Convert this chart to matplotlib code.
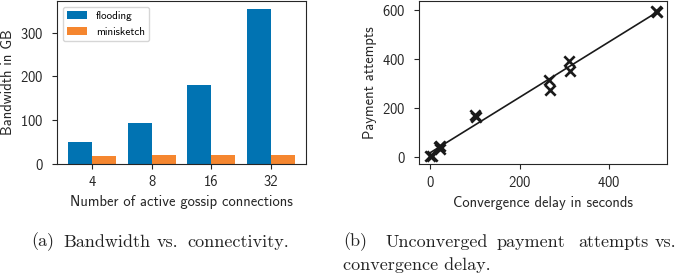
import numpy as np
import matplotlib
matplotlib.use("Agg")
import matplotlib.pyplot as plt

# (a) bandwidth per connectivity
connections = ["4", "8", "16", "32"]
flooding = [50, 94, 180, 353]
minisketch = [18, 19.5, 21, 21]

# (b) unconverged payment attempts
delay = [0, 3, 19, 21, 23, 100, 103, 265, 268, 311, 312, 505, 507]
attempts = [4, 2, 41, 30, 44, 170, 162, 315, 275, 392, 350, 597, 593]

plt.rcParams["font.family"] = ["cmss10", "DejaVu Sans"]
plt.rcParams["axes.formatter.use_mathtext"] = True
plt.rcParams["axes.edgecolor"] = "#262626"
plt.rcParams["xtick.color"] = "#262626"
plt.rcParams["ytick.color"] = "#262626"
plt.rcParams["axes.labelcolor"] = "#262626"

fig = plt.figure(figsize=(6.85, 2.74), dpi=100)

# left panel
ax1 = fig.add_axes([0.0832, 0.4015, 0.3635, 0.595])
x = np.arange(len(connections))
w = 0.4
ax1.bar(x - w / 2, flooding, w, color="#0173B2", label="flooding")
ax1.bar(x + w / 2, minisketch, w, color="#F5862F", label="minisketch")
ax1.set_xticks(x)
ax1.set_xticklabels(connections)
ax1.set_ylim(0, 372)
ax1.set_yticks([0, 100, 200, 300])
ax1.set_ylabel("Bandwidth in GB", fontsize=10.5)
ax1.set_xlabel("Number of active gossip connections", fontsize=10.5)
ax1.tick_params(labelsize=10.5)
ax1.tick_params(axis="y", pad=6)
ax1.tick_params(axis="x", pad=4.5)
ax1.legend(loc="upper left", fontsize=8, handlelength=1.8)

# right panel
ax2 = fig.add_axes([0.6117, 0.4015, 0.362, 0.595])
ax2.scatter(delay, attempts, marker="x", s=55, linewidths=1.9, color="#1a1a1a", zorder=3)
k, b = np.polyfit(delay, attempts, 1)
xs = np.array([min(delay), max(delay)])
ax2.plot(xs, k * xs + b, color="#1a1a1a", lw=1.2)
ax2.set_xlim(-25, 530)
ax2.set_ylim(-30, 638)
ax2.set_xticks([0, 200, 400])
ax2.set_yticks([0, 200, 400, 600])
ax2.set_xlabel("Convergence delay in seconds", fontsize=10.5)
ax2.set_ylabel("Payment attempts", fontsize=10.5)
ax2.tick_params(labelsize=10.5)
ax2.tick_params(axis="y", pad=6)
ax2.tick_params(axis="x", pad=4.5)

# captions (justified like the paper, word by word)
cap = dict(fontsize=13, family=["cmr10", "DejaVu Serif"], color="#222222", va="center", ha="left")
for wd, xp in zip(["(a)", "Bandwidth", "vs.", "connectivity."], [31, 63, 157, 187]):
    fig.text(xp / 685, 1 - 242 / 274, wd, **cap)
for wd, xp in zip(["(b)", "Unconverged", "payment", "attempts", "vs."], [343, 385, 497, 578, 655]):
    fig.text(xp / 685, 1 - 242 / 274, wd, **cap)
fig.text(343 / 685, 1 - 265 / 274, "convergence delay.", **cap)

fig.savefig("out.png", dpi=100)
